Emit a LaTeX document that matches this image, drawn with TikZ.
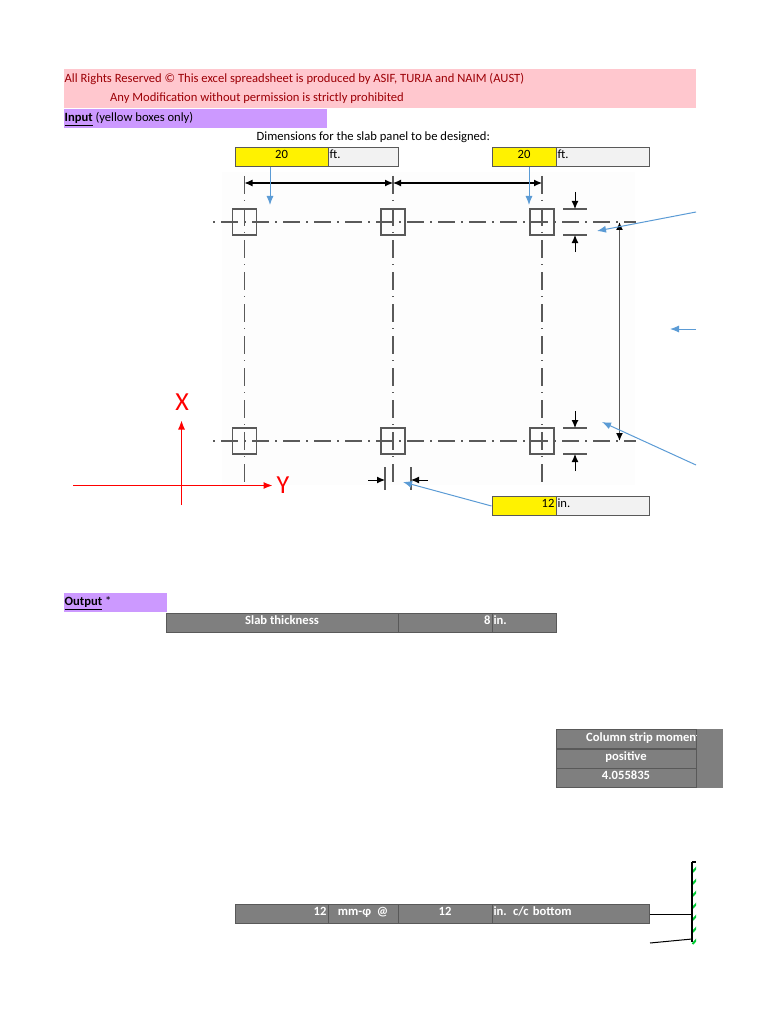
\documentclass[tikz,border=0pt]{standalone}
\usepackage{fontspec}
\setmainfont{Carlito}
\usetikzlibrary{arrows.meta}
\definecolor{badpink}{HTML}{FFC7CE}
\definecolor{badred}{HTML}{9C0006}
\definecolor{lilac}{HTML}{CC99FF}
\definecolor{inputgrey}{HTML}{F2F2F2}
\definecolor{outgrey}{HTML}{7F7F7F}
\definecolor{edgegrey}{HTML}{595959}
\definecolor{gridgrey}{HTML}{5A5A5A}
\definecolor{planback}{HTML}{FDFDFD}
\definecolor{callout}{HTML}{5B9BD5}
\definecolor{hatchgreen}{HTML}{00CC33}
\tikzset{
    sheettext/.style={inner sep=0pt, font=\fontsize{12.6}{15}\selectfont},
    cell/.style={sheettext, draw=edgegrey, line width=1pt, anchor=north west, minimum height=19, inner xsep=1.5pt, text height=8, text depth=4.5},
    yellowcell/.style={cell, fill=yellow},
    unitcell/.style={cell, fill=inputgrey, align=left},
    outcell/.style={cell, fill=outgrey, text=white, font=\fontsize{12.6}{15}\selectfont\bfseries},
    columnsq/.style={draw=edgegrey, line width=1.1pt, minimum width=24, minimum height=26, inner sep=0pt},
    gridh/.style={draw=gridgrey, line width=1.3pt, dash pattern=on 1.5 off 6.5 on 17 off 6},
    gridv/.style={draw=gridgrey, line width=1.3pt, dash pattern=on 18 off 6 on 1 off 7},
    dimline/.style={line width=1.1pt, black, {Latex[length=8pt,width=7pt]}-{Latex[length=8pt,width=7pt]}},
    leader/.style={line width=1pt, black, -{Latex[length=8pt,width=7pt]}},
    witness/.style={draw=edgegrey, line width=1.1pt},
    bluearrow/.style={callout, line width=1pt, -{Latex[length=9pt,width=7pt]}},
    redarrow/.style={draw=red, line width=1.2pt, -{Latex[length=9pt,width=7pt,red]}},
}
\begin{document}
\begin{tikzpicture}[x=1pt,y=-1pt]
    \useasboundingbox (0,0) rectangle (768,1024);

    % the header bands
    \fill[badpink] (64,69) rectangle (696,108.5);
    \fill[lilac] (64,109) rectangle (327,128);
    \fill[lilac] (64,593) rectangle (167,612);
    \node[sheettext, anchor=west, text=badred] (rights) at (64.5,79) {All Rights Reserved © This excel spreadsheet is produced by ASIF, TURJA and NAIM (AUST)};
    \node[sheettext, anchor=west, text=badred] (modify) at (110,98.5) {Any Modification without permission is strictly prohibited};
    \node[sheettext, anchor=west] (input) at (64.5,119) {\textbf{\underline{Input}} (yellow boxes only)};
    \node[sheettext, anchor=west] (dimensions) at (256.5,137.5) {Dimensions for the slab panel to be designed:};
    \node[sheettext, anchor=west] (output) at (64.5,603.5) {\textbf{\underline{Output}} *};

    % the input cells
    \node[yellowcell, minimum width=93] (spanone) at (234.5,147) {20};
    \node[unitcell, minimum width=70, text width=67] (unitone) at (327.5,147) {ft.};
    \node[yellowcell, minimum width=64] (spantwo) at (491.5,147) {20};
    \node[unitcell, minimum width=93, text width=90] (unittwo) at (555.5,147) {ft.};
    \node[yellowcell, minimum width=64, text width=61, align=right] (colsize) at (491.5,496) {12};
    \node[unitcell, minimum width=93, text width=90] (unitsize) at (555.5,496) {in.};

    % the plan of the panel
    \fill[planback] (222,172) rectangle (635,485);
    \node[columnsq] (c11) at (244.5,222) {};
    \node[columnsq] (c12) at (393,222) {};
    \node[columnsq] (c13) at (542,222) {};
    \node[columnsq] (c21) at (244.5,441) {};
    \node[columnsq] (c22) at (393,441) {};
    \node[columnsq] (c23) at (542,441) {};

    % the grid lines, here I just create coordinates for the free ends
    \coordinate (gh1a) at (213,222);
    \coordinate (gh1b) at (636,222);
    \coordinate (gh2a) at (213,441);
    \coordinate (gh2b) at (636,441);
    \coordinate (gv1a) at (244.5,176);
    \coordinate (gv1b) at (244.5,482);
    \coordinate (gv2a) at (393,176);
    \coordinate (gv2b) at (393,482);
    \coordinate (gv3a) at (542,176);
    \coordinate (gv3b) at (542,482);
    \draw[gridh] (gh1a) -- (gh1b);
    \draw[gridh] (gh2a) -- (gh2b);
    \draw[gridv] (gv1a) -- (gv1b);
    \draw[gridv] (gv2a) -- (gv2b);
    \draw[gridv] (gv3a) -- (gv3b);

    % the span dimensions
    \coordinate (dim1) at (244.5,183);
    \coordinate (dim2) at (393,183);
    \coordinate (dim3) at (542,183);
    \draw[dimline] (dim1) -- (dim2);
    \draw[dimline] (dim2) -- (dim3);
    \coordinate (dimv1) at (619.5,222);
    \coordinate (dimv2) at (619.5,441);
    \draw[dimline, line width=1.4pt, gridgrey, {Latex[length=8pt,width=7pt,black]}-{Latex[length=8pt,width=7pt,black]}] (dimv1) -- (dimv2);

    % the strip width marks on the right
    \coordinate (w1a) at (563,209);
    \coordinate (w1b) at (587,209);
    \coordinate (w2a) at (563,235);
    \coordinate (w2b) at (587,235);
    \coordinate (w3a) at (563,428);
    \coordinate (w3b) at (587,428);
    \coordinate (w4a) at (563,454);
    \coordinate (w4b) at (587,454);
    \draw[witness] (w1a) -- (w1b);
    \draw[witness] (w2a) -- (w2b);
    \draw[witness] (w3a) -- (w3b);
    \draw[witness] (w4a) -- (w4b);
    \coordinate (s1) at (575,192);
    \coordinate (t1) at (575,209);
    \coordinate (s2) at (575,252);
    \coordinate (t2) at (575,235);
    \coordinate (s3) at (575,411);
    \coordinate (t3) at (575,428);
    \coordinate (s4) at (575,471);
    \coordinate (t4) at (575,454);
    \draw[leader] (s1) -- (t1);
    \draw[leader] (s2) -- (t2);
    \draw[leader] (s3) -- (t3);
    \draw[leader] (s4) -- (t4);

    % the column size mark
    \coordinate (m1a) at (385,467);
    \coordinate (m1b) at (385,490);
    \coordinate (m2a) at (411,467);
    \coordinate (m2b) at (411,490);
    \draw[witness] (m1a) -- (m1b);
    \draw[witness] (m2a) -- (m2b);
    \coordinate (ms1) at (368,480);
    \coordinate (mt1) at (385,480);
    \coordinate (ms2) at (428,480);
    \coordinate (mt2) at (411,480);
    \draw[leader] (ms1) -- (mt1);
    \draw[leader] (ms2) -- (mt2);

    % the blue arrows
    \coordinate (b1s) at (270,167);
    \coordinate (b1t) at (270,205);
    \coordinate (b2s) at (529,167);
    \coordinate (b2t) at (529,205);
    \coordinate (b3s) at (696,212);
    \coordinate (b3t) at (597,231);
    \coordinate (b4s) at (696,329);
    \coordinate (b4t) at (670,329);
    \coordinate (b5s) at (696,465);
    \coordinate (b5t) at (602,422);
    \coordinate (b6t) at (403,482);
    \draw[bluearrow] (b1s) -- (b1t);
    \draw[bluearrow] (b2s) -- (b2t);
    \draw[bluearrow] (b3s) -- (b3t);
    \draw[bluearrow] (b4s) -- (b4t);
    \draw[bluearrow] (b5s) -- (b5t);
    \draw[bluearrow] (colsize.west) -- (b6t);

    % the axes
    \node[sheettext, text=red, font=\fontsize{26}{30}\selectfont] (xlabel) at (182,402) {X};
    \node[sheettext, text=red, font=\fontsize{26}{30}\selectfont] (ylabel) at (283,485) {Y};
    \coordinate (axy1) at (73,485.5);
    \coordinate (axy2) at (272.5,485.5);
    \coordinate (axx1) at (181.5,505);
    \coordinate (axx2) at (181.5,420.5);
    \draw[redarrow] (axy1) -- (axy2);
    \draw[redarrow] (axx1) -- (axx2);

    % the output cells
    \node[outcell, minimum width=232] (slabname) at (165.5,613) {Slab thickness};
    \node[outcell, minimum width=94, text width=91, align=right] (slabvalue) at (397.5,613) {8};
    \node[outcell, minimum width=64, text width=61, align=left] (slabunit) at (491.5,613) {in.};

    \fill[outgrey] (696,729) rectangle (723,787.5);
    \node[outcell, minimum width=140] (momenthead) at (555.5,729) {};
    \node[outcell, minimum width=140] (momentkind) at (555.5,748.5) {positive};
    \node[outcell, minimum width=140] (momentvalue) at (555.5,768) {4.055835};
    \begin{scope}
        \clip (556,729) rectangle (696,748);
        \node[sheettext, anchor=west, text=white, font=\fontsize{12.6}{15}\selectfont\bfseries] (momenttext) at (586,738) {Column strip moment};
    \end{scope}

    \node[outcell, minimum width=93, text width=90, align=right] (bardia) at (234.5,904) {12};
    \node[outcell, minimum width=70] (barunit) at (327.5,904) {mm-φ\ \ @};
    \node[outcell, minimum width=94] (barspace) at (397.5,904) {12};
    \node[outcell, minimum width=157, text width=154, align=left] (barnote) at (491.5,904) {in. c/c bottom};

    % the wall with its hatch on the right
    \coordinate (walltop) at (692,862);
    \coordinate (walltick) at (696,862);
    \coordinate (wallbot) at (692,942);
    \coordinate (wallfoot) at (692,939);
    \coordinate (footend) at (650,943);
    \begin{scope}
        \clip (690,860) rectangle (696,945);
        \draw[hatchgreen, line width=2pt] (692.5,872) -- (698,866);
        \draw[hatchgreen, line width=2pt] (692.5,884) -- (698,878);
        \draw[hatchgreen, line width=2pt] (692.5,896) -- (698,890);
        \draw[hatchgreen, line width=2pt] (692.5,908) -- (698,902);
        \draw[hatchgreen, line width=2pt] (692.5,920) -- (698,914);
        \draw[hatchgreen, line width=2pt] (692.5,932) -- (698,926);
        \draw[hatchgreen, line width=2pt] (692.5,944) -- (698,938);
    \end{scope}
    \draw[black, line width=2.2pt] (walltop) -- (wallbot);
    \draw[black, line width=1.2pt] (walltop) -- (walltick);
    \draw[black, line width=1pt] (barnote.east) -- (barnote.east -| walltop);
    \draw[black, line width=1pt] (footend) -- (wallfoot);

\end{tikzpicture}
\end{document}
